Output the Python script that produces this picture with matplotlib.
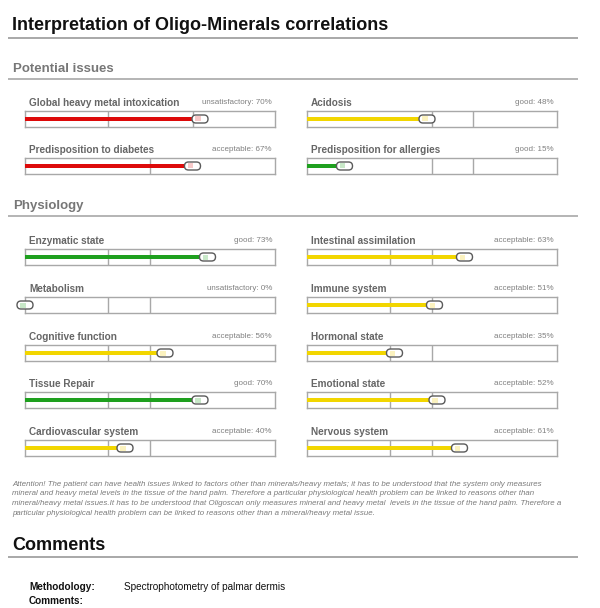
import matplotlib
matplotlib.use("Agg")
import matplotlib.pyplot as plt
from matplotlib.patches import FancyBboxPatch, Rectangle

plt.rcParams['font.family'] = ['Liberation Sans', 'DejaVu Sans']

W, H = 600, 608

# ---------------- data ----------------
issue_labels = ["Global heavy metal intoxication", "Acidosis",
                "Predisposition to diabetes", "Predisposition for allergies"]
issue_values = [70, 48, 67, 15]
issue_status = ["unsatisfactory", "good", "acceptable", "good"]
issue_colors = ["red", "yellow", "red", "green"]
issue_zones = [[33, 67], [50, 66.5], [50], [50, 66.5]]

phys_labels = ["Enzymatic state", "Intestinal assimilation",
               "Metabolism", "Immune system",
               "Cognitive function", "Hormonal state",
               "Tissue Repair", "Emotional state",
               "Cardiovascular system", "Nervous system"]
phys_values = [73, 63, 0, 51, 56, 35, 70, 52, 40, 61]
phys_status = ["good", "acceptable", "unsatisfactory", "acceptable",
               "acceptable", "acceptable", "good", "acceptable",
               "acceptable", "acceptable"]
phys_colors = ["green", "yellow", "green", "yellow", "yellow", "yellow",
               "green", "yellow", "yellow", "yellow"]
phys_zones = [[33, 50], [33, 50]] * 5

palette = {"red": ("#dd0a0a", "#f7c9c9"),
           "yellow": ("#f2d600", "#fbf2bf"),
           "green": ("#1fa01f", "#c8e8c8")}

disclaimer = [
    "Attention! The patient can have health issues linked to factors other than minerals/heavy metals; it has to be understood that the system only measures",
    "mineral and heavy metal levels in the tissue of the hand palm. Therefore a particular physiological health problem can be linked to reasons other than",
    "mineral/heavy metal issues.It has to be understood that Oligoscan only measures mineral and heavy metal  levels in the tissue of the hand palm. Therefore a",
    "particular physiological health problem can be linked to reasons other than a mineral/heavy metal issue.",
]

fig = plt.figure(figsize=(W / 100, H / 100), dpi=100)
fig.patch.set_facecolor("white")

page = fig.add_axes([0, 0, 1, 1])
page.set_xlim(0, W)
page.set_ylim(H, 0)
page.axis("off")

LINE_C = "#a8a8a8"

# headings
page.text(12, 25, "Interpretation of Oligo-Minerals correlations", fontsize=13,
          fontweight="bold", color="#111111", va="center", ha="left")
page.plot([8, 578], [38, 38], color=LINE_C, lw=1.4, solid_capstyle="butt")
page.text(13, 69, "Potential issues", fontsize=9.5, fontweight="bold",
          color="#777777", va="center", ha="left")
page.plot([8, 578], [79, 79], color=LINE_C, lw=1.2, solid_capstyle="butt")
page.text(13, 206, "Physiology", fontsize=9.5, fontweight="bold",
          color="#777777", va="center", ha="left")
page.plot([8, 578], [216, 216], color=LINE_C, lw=1.2, solid_capstyle="butt")

BOX_W, BOX_H = 250, 16
KNOB_W, KNOB_H = 16, 8


def gauge(x, y, label, value, status, color, zones):
    ax = fig.add_axes([x / W, 1 - (y + BOX_H) / H, BOX_W / W, BOX_H / H])
    ax.set_xlim(0, 100)
    ax.set_ylim(0, 1)
    ax.set_xticks([])
    ax.set_yticks([])
    for s in ax.spines.values():
        s.set_color(LINE_C)
        s.set_linewidth(1.0)
    for z in zones:
        ax.axvline(z, color=LINE_C, lw=1.0)
    main, pale = palette[color]
    ux = 100 / BOX_W  # data units per px (x)
    uy = 1 / BOX_H    # data units per px (y)
    ax.barh(0.5, value, height=3.6 * uy, color=main, left=0, zorder=3)
    kw, kh = KNOB_W * ux, KNOB_H * uy
    knob = FancyBboxPatch((value - kw / 2, 0.5 - kh / 2), kw, kh,
                          boxstyle="round,pad=0,rounding_size=%f" % (4 * ux),
                          mutation_aspect=uy / ux, facecolor="white",
                          edgecolor="#5a5a5a", lw=1.0, zorder=5, clip_on=False)
    ax.add_patch(knob)
    ax.add_patch(Rectangle((value - 5 * ux, 0.5 - 2.5 * uy), 5.5 * ux, 5 * uy,
                           facecolor=pale, edgecolor="none", zorder=6,
                           clip_on=False))
    page.text(x + 4, y - 8, label, fontsize=7.2, fontweight="bold",
              color="#666666", va="center", ha="left")
    page.text(x + BOX_W - 3, y - 8.5, "%s: %d%%" % (status, value),
              fontsize=5.8, color="#808080", va="center", ha="right")


COL_X = [25, 307]
issue_rows = [111, 158]
for i, (lab, v, st, c, z) in enumerate(zip(issue_labels, issue_values,
                                           issue_status, issue_colors,
                                           issue_zones)):
    gauge(COL_X[i % 2], issue_rows[i // 2], lab, v, st, c, z)

phys_rows = [249, 297, 345, 392, 440]
for i, (lab, v, st, c, z) in enumerate(zip(phys_labels, phys_values,
                                           phys_status, phys_colors,
                                           phys_zones)):
    gauge(COL_X[i % 2], phys_rows[i // 2], lab, v, st, c, z)

# disclaimer
for k, line in enumerate(disclaimer):
    page.text(12, 484 + k * 9.8, line, fontsize=5.7, style="italic",
              color="#7a7a7a", va="center", ha="left")

page.text(12, 545, "Comments", fontsize=13, fontweight="bold",
          color="#111111", va="center", ha="left")
page.plot([8, 578], [557, 557], color=LINE_C, lw=1.4, solid_capstyle="butt")

page.text(29, 587, "Methodology:", fontsize=7.2, fontweight="bold",
          color="#111111", va="center", ha="left")
page.text(124, 587, "Spectrophotometry of palmar dermis", fontsize=7.2,
          color="#111111", va="center", ha="left")
page.text(29, 601, "Comments:", fontsize=7.2, fontweight="bold",
          color="#111111", va="center", ha="left")

fig.savefig("out.png", dpi=100, facecolor="white")
